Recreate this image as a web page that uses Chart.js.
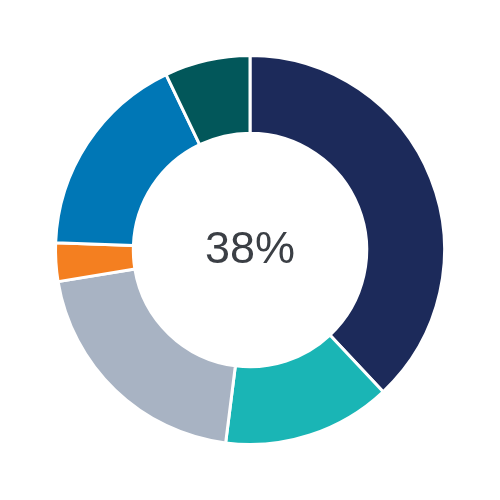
<!DOCTYPE html>
<html>
<head>
<meta charset="utf-8">
<script src="https://cdn.jsdelivr.net/npm/chart.js@4"></script>
<style>
  html, body { margin: 0; padding: 0; background: #fff; }
  #wrap { position: relative; width: 500px; height: 500px; }
  #centerLabel {
    position: absolute; left: 0; top: 0; width: 500px; height: 500px;
    display: flex; align-items: center; justify-content: center;
    font-family: "Liberation Sans", Arial, sans-serif; font-size: 45px;
    color: #3b3f45; pointer-events: none; padding-bottom: 4px; box-sizing: border-box;
  }
</style>
</head>
<body>
<div id="wrap">
  <canvas id="donut" width="500" height="500"></canvas>
  <div id="centerLabel">38%</div>
</div>
<script>
// segment data, clockwise from 12 o'clock
const segments = ['A', 'B', 'C', 'D', 'E', 'F'];
const shares = [38, 14, 20.4, 3.2, 17.3, 7.1];
const colours = ['#1c2a5a', '#1ab5b5', '#a8b3c3', '#f47f20', '#0077b6', '#02575a'];

function initChart() {
    const ctx = document.getElementById('donut')?.getContext('2d');
    if (!ctx) return;

    new Chart(ctx, {
        type: 'doughnut',
        data: {
            labels: segments,
            datasets: [{
                data: shares,
                backgroundColor: colours,
                borderColor: '#ffffff',
                borderWidth: 3
            }]
        },
        options: {
            responsive: false,
            animation: false,
            cutout: '60%',
            layout: { padding: 54 },
            plugins: {
                legend: { display: false },
                tooltip: { enabled: false }
            }
        }
    });
}

document.addEventListener('DOMContentLoaded', () => {
    initChart();
});
</script>
</body>
</html>
